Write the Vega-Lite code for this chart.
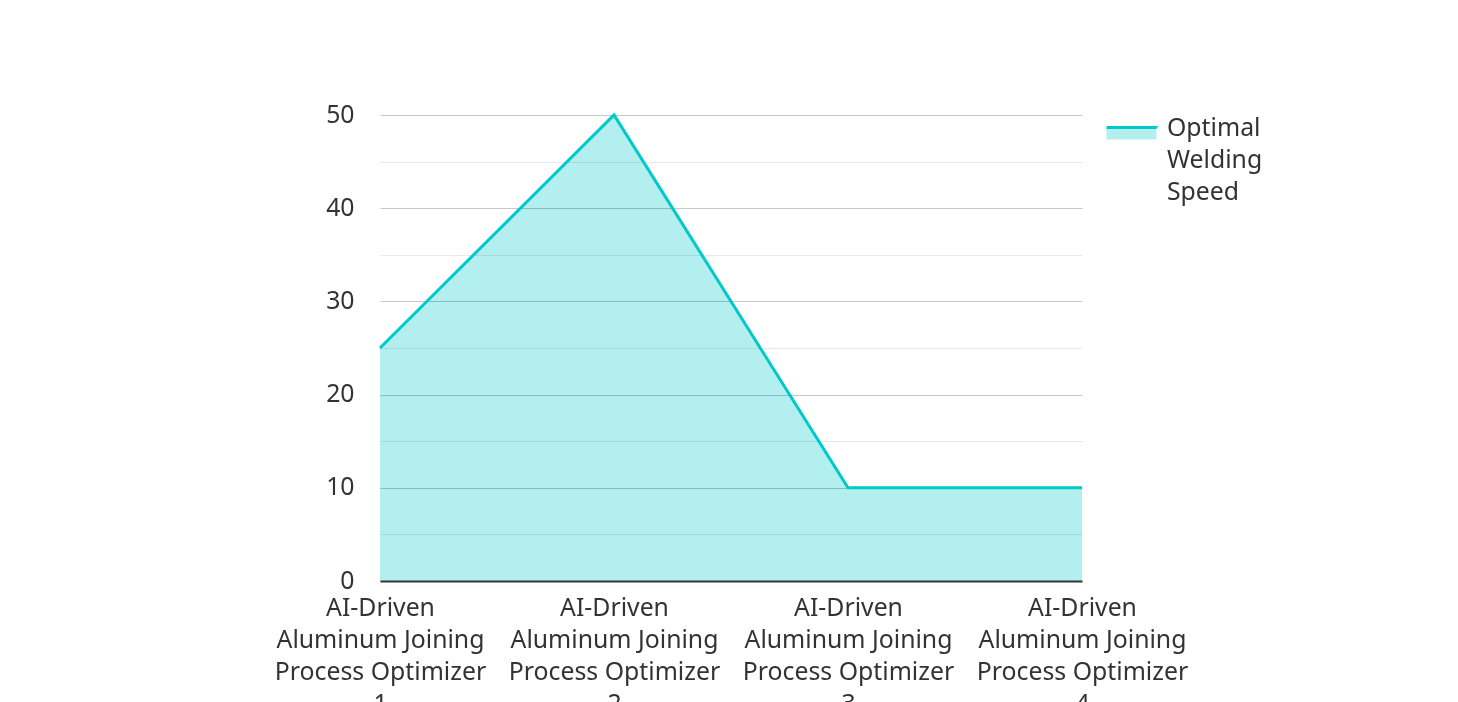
{
  "$schema": "https://vega.github.io/schema/vega-lite/v6.json",
  "width": 702,
  "height": 466,
  "autosize": {"type": "none"},
  "padding": {"left": 380, "top": 115, "right": 376, "bottom": 121},
  "background": "white",
  "config": {"view": {"stroke": null}, "font": "Noto Sans"},
  "data": {
    "values": [
      {"product": "AI-Driven Aluminum Joining Process Optimizer 1", "series": "Optimal Welding Speed", "speed": 25},
      {"product": "AI-Driven Aluminum Joining Process Optimizer 2", "series": "Optimal Welding Speed", "speed": 50},
      {"product": "AI-Driven Aluminum Joining Process Optimizer 3", "series": "Optimal Welding Speed", "speed": 10},
      {"product": "AI-Driven Aluminum Joining Process Optimizer 4", "series": "Optimal Welding Speed", "speed": 10}
    ]
  },
  "encoding": {
    "x": {
      "field": "product",
      "type": "ordinal",
      "sort": null,
      "scale": {"type": "point", "padding": 0},
      "axis": {
        "title": null,
        "labelAngle": 0,
        "ticks": false,
        "grid": false,
        "zindex": 1,
        "domainColor": "#333333",
        "domainWidth": 2,
        "labelFontSize": 24.8,
        "labelColor": "#333333",
        "labelLineHeight": 32,
        "labelPadding": 14,
        "labelLimit": 0,
        "labelExpr": "[slice(datum.label,0,9), slice(datum.label,10,26), slice(datum.label,27,44), slice(datum.label,45)]"
      }
    },
    "y": {
      "field": "speed",
      "type": "quantitative",
      "scale": {"domain": [0, 50], "nice": false},
      "axis": {
        "title": null,
        "values": [0, 5, 10, 15, 20, 25, 30, 35, 40, 45, 50],
        "labelExpr": "datum.value % 10 === 0 ? datum.label : ''",
        "gridColor": {"condition": {"test": "datum.value % 10 === 0", "value": "#c8c8c8"}, "value": "#e8e8e8"},
        "domain": false,
        "ticks": false,
        "labelPadding": 26,
        "labelFontSize": 24.8,
        "labelColor": "#333333"
      }
    }
  },
  "layer": [
    {
      "mark": {"type": "area", "blend": "multiply"},
      "encoding": {
        "fill": {
          "field": "series",
          "type": "nominal",
          "scale": {"range": ["#b3efef"]},
          "legend": null
        }
      }
    },
    {
      "mark": {"type": "line", "strokeWidth": 3},
      "encoding": {
        "stroke": {
          "field": "series",
          "type": "nominal",
          "scale": {"range": ["#00c9c9"]},
          "legend": {
            "title": null,
            "orient": "right",
            "offset": 29,
            "padding": 0,
            "labelOffset": 21,
            "labelFontSize": 24.8,
            "labelColor": "#333333",
            "labelExpr": "split(datum.label, ' ')",
            "symbolType": "M-1.923,-0.154H1.923V0.769H-1.923Z",
            "symbolSize": 676,
            "symbolFillColor": "#b3efef",
            "symbolStrokeWidth": 3,
            "symbolDash": [50, 1000],
            "symbolOpacity": 1,
            "encode": {
              "labels": {"update": {"lineHeight": {"value": 32}, "dy": {"value": -1}}},
              "symbols": {"update": {"fill": {"value": "#b3efef"}, "strokeDash": {"value": [50, 1000]}}}
            }
          }
        }
      }
    }
  ]
}
